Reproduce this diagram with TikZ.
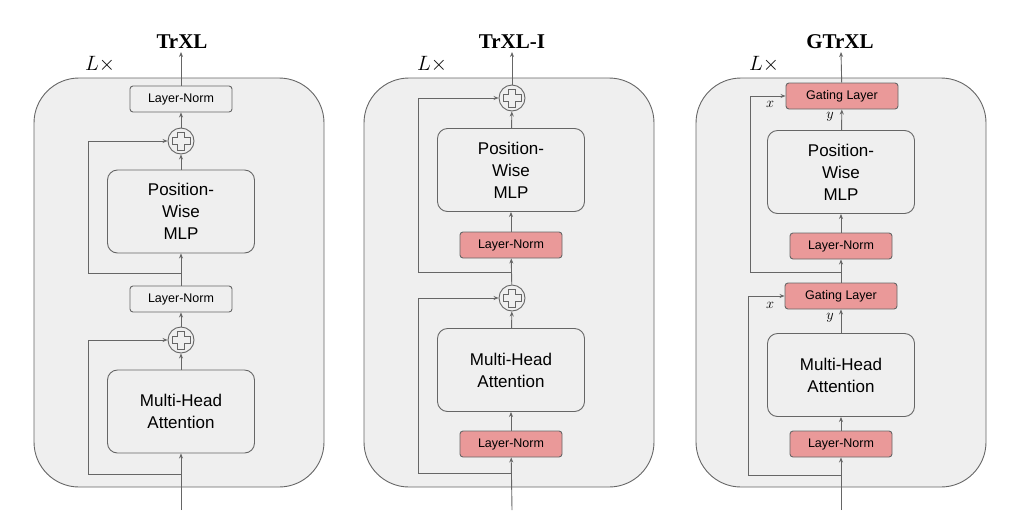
\documentclass[tikz,border=0pt]{standalone}
\usepackage{fontspec}
\setmainfont{Liberation Sans}
\newfontfamily\titlefont{Liberation Serif}
\usetikzlibrary{arrows.meta}
\definecolor{panelfill}{HTML}{EFEFEF}
\definecolor{edge}{HTML}{666666}
\definecolor{redfill}{HTML}{EA9999}
\begin{document}
\begin{tikzpicture}[x=1pt,y=-1pt,
  panel/.style={draw=edge,fill=panelfill,rounded corners=45pt,line width=0.9pt},
  big/.style={draw=edge,fill=panelfill,rounded corners=10pt,line width=0.9pt,minimum width=147pt,minimum height=83pt,align=center,font=\fontsize{17}{22}\selectfont},
  ln/.style={draw=edge,fill=panelfill,rounded corners=3pt,line width=0.9pt,minimum width=102pt,minimum height=26pt,font=\fontsize{12.5}{14}\selectfont},
  lnr/.style={ln,fill=redfill},
  gate/.style={lnr,minimum width=112pt},
  plus/.style={circle,draw=edge,fill=panelfill,line width=0.9pt,minimum size=26pt,inner sep=0pt,
    path picture={\draw[edge,line width=0.8pt] ([shift={(-3.5pt,-9pt)}]path picture bounding box.center) -- ++(7pt,0) -- ++(0,5.5pt) -- ++(5.5pt,0) -- ++(0,7pt) -- ++(-5.5pt,0) -- ++(0,5.5pt) -- ++(-7pt,0) -- ++(0,-5.5pt) -- ++(-5.5pt,0) -- ++(0,-7pt) -- ++(5.5pt,0) -- cycle;}},
  ar/.style={draw=edge,line width=0.9pt,-{Stealth[length=5pt,width=4pt]}},
  ln0/.style={draw=edge,line width=0.9pt},
  ttl/.style={font=\titlefont\bfseries\fontsize{21}{24}\selectfont},
  lx/.style={font=\fontsize{21}{24}\selectfont},
  xy/.style={font=\fontsize{15}{16}\selectfont}]
\useasboundingbox (0,0) rectangle (1016,528);
% ---------- Panel 1: TrXL ----------
\node[panel,minimum width=290pt,minimum height=409pt] (p1) at (179,282.5) {};
\node[ttl] (t1) at (182,42) {TrXL};
\node[lx] (l1) at (100,64) {$L\times$};
\node[ln] (a1) at (181,99) {Layer-Norm};
\node[plus] (a2) at (181,141) {};
\node[big] (a3) at (181,211.5) {Position-\\Wise\\MLP};
\node[ln] (a4) at (181,299) {Layer-Norm};
\node[plus] (a5) at (181,340) {};
\node[big] (a6) at (181,411.5) {Multi-Head\\Attention};
\coordinate (a7) at (181,510);
\coordinate (a8) at (181,474);
\coordinate (a9) at (181,273);
\coordinate (a10) at (181,52);
\path[ar] (a7) -- (a6);
\path[ar] (a6) -- (a5);
\path[ar] (a5) -- (a4);
\path[ar] (a4) -- (a3);
\path[ar] (a3) -- (a2);
\path[ar] (a2) -- (a1);
\path[ar] (a1) -- (a10);
\path[ar] (a8) -| (88,340) -- (a5);
\path[ar] (a9) -| (88,141) -- (a2);
% ---------- Panel 2: TrXL-I ----------
\node[panel,minimum width=290pt,minimum height=409pt] (p2) at (509,282.5) {};
\node[ttl] (t2) at (512,42) {TrXL-I};
\node[lx] (l2) at (432,64) {$L\times$};
\node[plus] (b1) at (512,98) {};
\node[big] (b2) at (511,170) {Position-\\Wise\\MLP};
\node[lnr] (b3) at (511,245) {Layer-Norm};
\node[plus] (b4) at (512,298) {};
\node[big] (b5) at (511,370) {Multi-Head\\Attention};
\node[lnr] (b6) at (511,444) {Layer-Norm};
\coordinate (b7) at (512,510);
\coordinate (b8) at (512,473);
\coordinate (b9) at (512,272);
\coordinate (b10) at (512,52);
\path[ar] (b7) -- (b6);
\path[ar] (b6) -- (b5);
\path[ar] (b5) -- (b4);
\path[ar] (b4) -- (b3);
\path[ar] (b3) -- (b2);
\path[ar] (b2) -- (b1);
\path[ar] (b1) -- (b10);
\path[ar] (b8) -| (418,298) -- (b4);
\path[ar] (b9) -| (418,98) -- (b1);
% ---------- Panel 3: GTrXL ----------
\node[panel,minimum width=290pt,minimum height=409pt] (p3) at (841,282.5) {};
\node[ttl] (t3) at (840,42) {GTrXL};
\node[lx] (l3) at (764,64) {$L\times$};
\node[gate] (c1) at (842,96) {Gating Layer};
\node[big] (c2) at (841,172) {Position-\\Wise\\MLP};
\node[lnr] (c3) at (841,246) {Layer-Norm};
\node[gate] (c4) at (841,296) {Gating Layer};
\node[big] (c5) at (841,375) {Multi-Head\\Attention};
\node[lnr] (c6) at (841,444) {Layer-Norm};
\coordinate (c7) at (841,510);
\coordinate (c8) at (841,475);
\coordinate (c9) at (841,272);
\coordinate (c10) at (841,52);
\path[ar] (c7) -- (c6);
\path[ar] (c6) -- (c5);
\path[ar] (c5) -- (c4);
\path[ar] (c4) -- (c3);
\path[ar] (c3) -- (c2);
\path[ar] (c2) -- (c1);
\path[ar] (c1) -- (c10);
\path[ar] (c8) -| (748,296) -- (c4);
\path[ar] (c9) -| (750,96) -- (c1);
\node[xy] (x1) at (770,104) {$x$};
\node[xy] (y1) at (830,117) {$y$};
\node[xy] (x2) at (770,305) {$x$};
\node[xy] (y2) at (830,318) {$y$};
\end{tikzpicture}
\end{document}
